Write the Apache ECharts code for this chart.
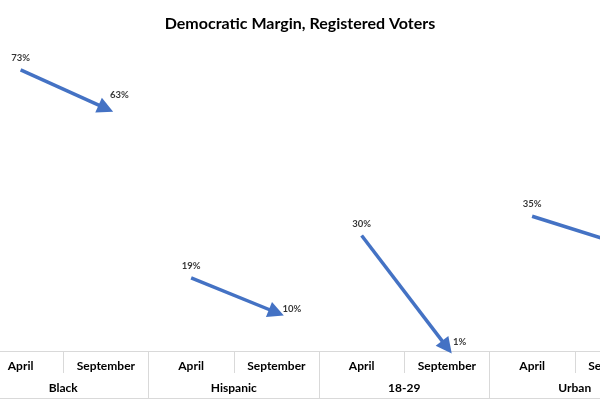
<!DOCTYPE html>
<html>
<head>
<meta charset="utf-8">
<script src="https://cdn.jsdelivr.net/npm/echarts@6/dist/echarts.min.js"></script>
<style>
html,body{margin:0;padding:0;background:#fff;}
#chart{width:600px;height:400px;}
</style>
</head>
<body>
<div id="chart"></div>
<script>
const title = 'Democratic Margin, Registered Voters';
const groups = ['Black', 'Hispanic', '18-29', 'Urban'];
const months = ['April', 'September'];
const april = [73, 19, 30, 35];
const september = [63, 10, 1, 28];

const FONT = 'Lato, "Open Sans", sans-serif';
const BLUE = '#4472C4';
const GRID_LINE = '#d9d9d9';
// label nudges (style only), per September point
const septLabelNudge = [[-2, -14], [0, -4], [0, -5], [0, -5]];

const categories = [];
groups.forEach(() => months.forEach(m => categories.push(m)));

const aprilPts = april.map((v, i) => [i * 2, v]);
const septPts = september.map((v, i) => ({
  value: [i * 2 + 1, v],
  label: { offset: septLabelNudge[i] }
}));
const arrows = groups.map((g, i) => [
  { coord: [i * 2, april[i]] },
  { coord: [i * 2 + 1, september[i]] }
]);

const labelStyle = {
  show: true,
  fontFamily: FONT,
  fontSize: 9.5,
  fontWeight: 'bold',
  color: '#000',
  formatter: p => p.value[1] + '%'
};

const chart = echarts.init(document.getElementById('chart'), null, { renderer: 'canvas' });
chart.setOption({
  animation: false,
  backgroundColor: '#fff',
  title: {
    text: title,
    left: 'center',
    top: 11,
    textStyle: { fontFamily: FONT, fontSize: 16, fontWeight: 'bold', color: '#000' }
  },
  grid: {
    left: -22, right: -60, top: 43, bottom: 49,
    containLabel: false,
    outerBoundsMode: 'none'
  },
  xAxis: [
    {
      type: 'category',
      data: categories,
      position: 'bottom',
      boundaryGap: true,
      axisLine: { show: true, lineStyle: { color: GRID_LINE, width: 1 } },
      axisTick: { show: true, interval: 0, length: 22, lineStyle: { color: GRID_LINE } },
      axisLabel: {
        interval: 0, margin: 9,
        fontFamily: FONT, fontSize: 12, fontWeight: 'bold', color: '#000'
      },
      splitLine: { show: false }
    },
    {
      type: 'category',
      data: groups,
      position: 'bottom',
      offset: 47,
      boundaryGap: true,
      axisLine: { show: true, lineStyle: { color: GRID_LINE, width: 1 } },
      axisTick: { show: true, inside: true, interval: 0, length: 47, lineStyle: { color: GRID_LINE } },
      axisLabel: {
        inside: true, interval: 0, margin: 4,
        fontFamily: FONT, fontSize: 12, fontWeight: 'bold', color: '#000'
      },
      splitLine: { show: false }
    }
  ],
  yAxis: {
    type: 'value',
    min: 0,
    max: 80,
    show: false,
    splitLine: { show: false }
  },
  series: [
    {
      name: 'April',
      type: 'scatter',
      xAxisIndex: 0,
      symbolSize: 0,
      data: aprilPts,
      label: Object.assign({}, labelStyle, { position: 'top', distance: 7 }),
      silent: true,
      markLine: {
        silent: true,
        symbol: ['none', 'triangle'],
        symbolSize: 16,
        lineStyle: { color: BLUE, width: 3.5, type: 'solid' },
        label: { show: false },
        emphasis: { disabled: true },
        data: arrows
      }
    },
    {
      name: 'September',
      type: 'scatter',
      xAxisIndex: 0,
      symbolSize: 0,
      data: septPts,
      label: Object.assign({}, labelStyle, { position: 'right', distance: 6 }),
      silent: true
    }
  ]
});
</script>
</body>
</html>
